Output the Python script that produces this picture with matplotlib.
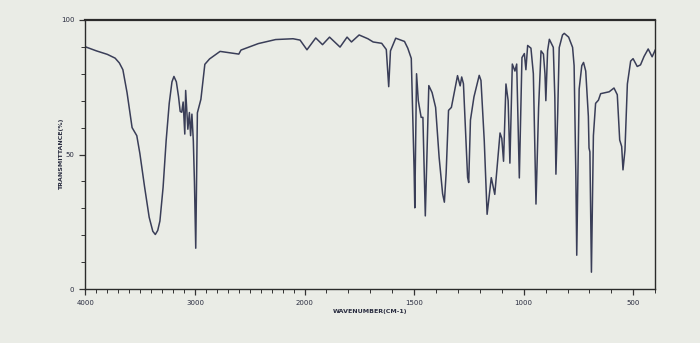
import numpy as np
import matplotlib
matplotlib.use("Agg")
import matplotlib.pyplot as plt
from matplotlib.ticker import FixedLocator, MultipleLocator

# IR spectrum: wavenumber (cm-1) and transmittance (%)
wavenumber = [4000, 3900, 3800, 3729, 3690, 3658, 3620, 3574, 3531, 3503, 3460, 3418, 3385,
              3362, 3340, 3320, 3291, 3263, 3235, 3210, 3192, 3170, 3150, 3135, 3121, 3108,
              3093, 3085, 3065, 3051, 3040, 3028, 3015, 3005, 2993, 2978, 2946, 2910, 2867,
              2771, 2600, 2580, 2422, 2264, 2105, 2041, 1989, 1949, 1918, 1886, 1838, 1806,
              1786, 1751, 1711, 1687, 1648, 1627, 1616, 1608, 1584, 1544, 1529, 1513, 1500,
              1497, 1489, 1481, 1468, 1460, 1449, 1433, 1418, 1402, 1386, 1370, 1362, 1354,
              1343, 1330, 1314, 1302, 1290, 1283, 1275, 1256, 1251, 1243, 1227, 1203, 1195,
              1180, 1167, 1148, 1132, 1108, 1100, 1092, 1081, 1071, 1063, 1052, 1040, 1032,
              1020, 1008, 997, 990, 982, 967, 956, 947, 944, 932, 921, 910, 903, 899, 891,
              883, 865, 858, 853, 845, 838, 823, 815, 795, 777, 770, 762, 758, 747, 735,
              727, 717, 705, 702, 698, 691, 682, 672, 659, 649, 610, 588, 573, 562, 553,
              547, 538, 527, 512, 501, 482, 467, 451, 432, 414, 400]
transmittance = [90, 88.5, 87.2, 85.8, 84, 81.5, 73, 60, 57, 50.4, 38, 26.7, 21.5,
                 20.3, 21.8, 25.3, 37.8, 55.2, 69, 77, 79, 77, 71.5, 66, 65.7, 69.5,
                 57.6, 73.8, 59.4, 65.6, 57, 65, 55, 40, 15.2, 65.5, 70.5, 83.5, 85.5,
                 88.3, 87.3, 88.8, 91.2, 92.7, 93, 92.5, 88.9, 93.3, 90.8, 93.6, 89.9, 93.6,
                 91.8, 94.4, 93, 91.8, 91.3, 89, 75.2, 88.5, 93.2, 92, 89.5, 85.7, 44,
                 30.2, 80, 70, 63.8, 63.8, 27.2, 75.6, 73, 67.5, 49, 35.4, 32.3, 43,
                 66.4, 67.5, 74.3, 79.3, 75.5, 78.8, 76.3, 41.5, 39.6, 62.8, 71.4, 79.4, 77.5,
                 55.1, 27.8, 41.4, 35.2, 58, 56, 47.5, 76.2, 70, 46.8, 83.6, 81, 83.6,
                 41.3, 86, 87.5, 81.5, 90.5, 89.5, 80, 44, 31.6, 67.5, 88.5, 87.3, 80, 70, 88.5,
                 92.8, 89.8, 71.3, 42.7, 65.1, 89.7, 94.4, 95, 93.6, 89.8, 83, 42, 12.6, 74.3, 83,
                 84.2, 81, 64.2, 52.4, 51, 6.3, 57, 69, 70.2, 72.6, 73.3, 74.7, 72.2, 55.4, 53,
                 44.3, 51.6, 76.2, 84.7, 85.6, 82.7, 83.3, 86.4, 89.2, 86.3, 88.8]

x_ticks = [4000, 3000, 2000, 1500, 1000, 500]
y_ticks = [0, 50, 100]


# the instrument chart is compressed 2x above 2000 cm-1
def fwd(w):
    w = np.asarray(w, dtype=float)
    return np.where(w > 2000, 2000 + (w - 2000) / 2, w)


def inv(u):
    u = np.asarray(u, dtype=float)
    return np.where(u > 2000, 2000 + (u - 2000) * 2, u)


bg = "#eaece6"
fig = plt.figure(figsize=(7, 3.43), dpi=100, facecolor=bg)
ax = fig.add_axes([0.122, 0.157, 0.814, 0.785], facecolor=bg)

ax.plot(wavenumber, transmittance, color="#3a3e58", lw=1.1)

ax.set_xscale("function", functions=(fwd, inv))
ax.set_xlim(4000, 400)
ax.set_ylim(0, 100)

ax.xaxis.set_major_locator(FixedLocator(x_ticks))
ax.xaxis.set_minor_locator(FixedLocator(list(range(4000, 399, -100))))
ax.yaxis.set_major_locator(FixedLocator(y_ticks))
ax.yaxis.set_minor_locator(MultipleLocator(10))
ax.set_xticklabels([str(t) for t in x_ticks])

ax.tick_params(which="both", direction="out", color="#333333", labelsize=5,
               labelcolor="#2a2d40")
ax.tick_params(which="major", length=4.5, width=0.9)
ax.tick_params(which="minor", length=3, width=0.7)

for s in ax.spines.values():
    s.set_color("#2b2b2b")
    s.set_linewidth(1.0)
ax.spines["top"].set_linewidth(1.6)

ax.set_xlabel("WAVENUMBER(CM-1)", fontsize=4.5, fontweight="bold", color="#2a2d40", labelpad=2)
ax.set_ylabel("TRANSMITTANCE(%)", fontsize=4.5, fontweight="bold", color="#2a2d40", labelpad=-2)

fig.savefig("out.png", dpi=100, facecolor=bg)
